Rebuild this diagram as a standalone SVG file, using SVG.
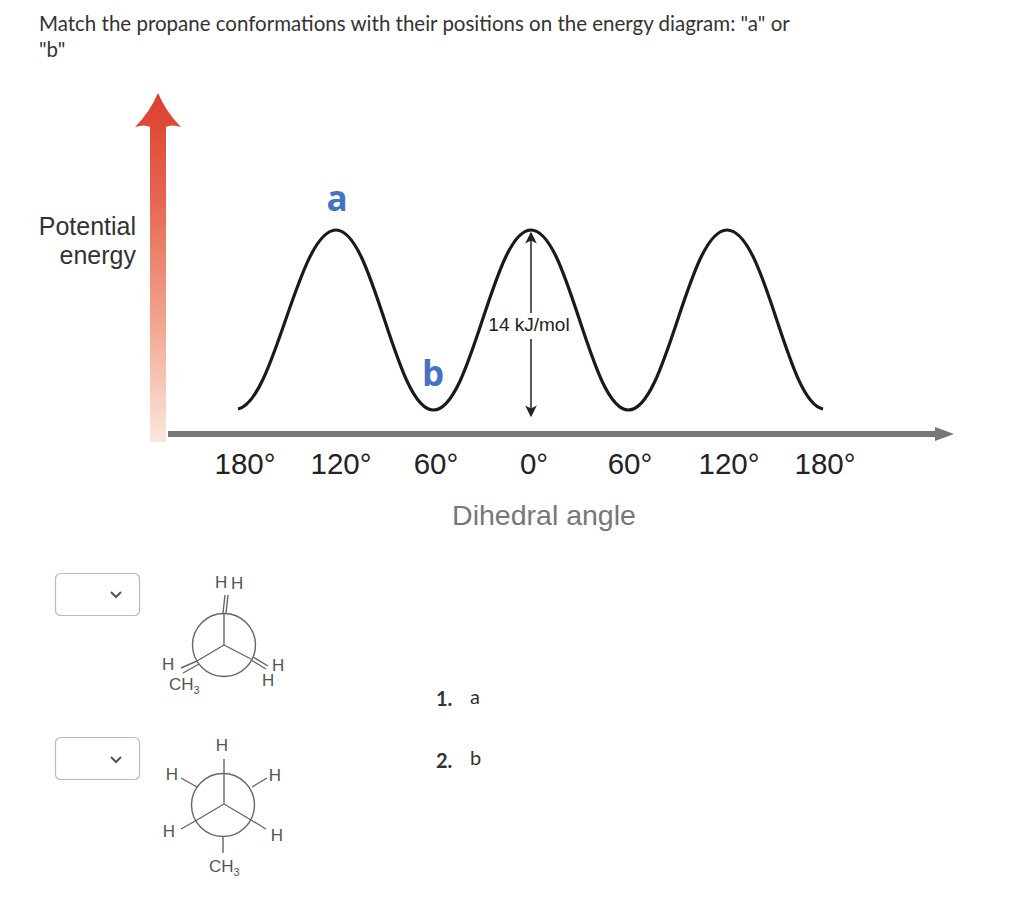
<svg xmlns="http://www.w3.org/2000/svg" width="1024" height="899" viewBox="0 0 1024 899">
<style>
.q{font-family:"Lato","Liberation Sans",sans-serif;font-size:20.5px;fill:#333}
.l{font-family:"Liberation Sans",Arial,sans-serif;font-size:25px;fill:#333}
.t{font-family:"Liberation Sans",Arial,sans-serif;font-size:29.500px;fill:#222}
.d{font-family:"Liberation Sans",Arial,sans-serif;font-size:28.500px;fill:#777}
.k{font-family:"Liberation Sans",Arial,sans-serif;font-size:19px;fill:#222}
.c{font-family:"Open Sans","Liberation Sans",sans-serif;font-weight:700;font-size:35px;fill:#4472c4}
.n{font-family:"Liberation Sans",Arial,sans-serif;font-size:17px;fill:#555}
.s{font-size:11px}
.a{font-family:"Lato","Liberation Sans",sans-serif;font-size:20px;fill:#333}
.m{fill:none;stroke:#666;stroke-width:1.4}
.b{fill:#fff;stroke:#bbb;stroke-width:1.2}
.v{fill:none;stroke:#555;stroke-width:2}
</style>
<defs>
<linearGradient id="g" x1="0" y1="0" x2="0" y2="1">
<stop offset="0" stop-color="#dd3e2e"/><stop offset=".3" stop-color="#e6654f"/><stop offset=".65" stop-color="#f1a48e"/><stop offset="1" stop-color="#fbe7dd"/>
</linearGradient>
<marker id="h" viewBox="0 0 10 12" refX="9" refY="6" markerWidth="13" markerHeight="14" markerUnits="userSpaceOnUse" orient="auto-start-reverse"><path d="M0 1L10 6L0 11L2.5 6Z" fill="#222"/></marker>
</defs>
<g id="question">
<text class="q" x="39" y="31">Match the propane conformations with their positions on the energy diagram: "a" or</text>
<text class="q" x="39" y="57">"b"</text>
</g>
<g id="energy-axis">
<path d="M150 442V127Q145 124 135 127Q150 112 158 93Q166 112 181 127Q171 124 166 127V442Z" fill="url(#g)"/>
<text class="l" x="136" y="235" text-anchor="end">Potential</text>
<text class="l" x="136" y="264" text-anchor="end">energy</text>
</g>
<g id="angle-axis">
<path d="M168 431H935V427L954 434L935 441V437H168Z" fill="#777"/>
<text class="t" x="245" y="474" text-anchor="middle">180°</text>
<text class="t" x="341" y="474" text-anchor="middle">120°</text>
<text class="t" x="436" y="474" text-anchor="middle">60°</text>
<text class="t" x="534" y="474" text-anchor="middle">0°</text>
<text class="t" x="630" y="474" text-anchor="middle">60°</text>
<text class="t" x="729" y="474" text-anchor="middle">120°</text>
<text class="t" x="825" y="474" text-anchor="middle">180°</text>
<text class="d" x="544" y="525" text-anchor="middle">Dihedral angle</text>
</g>
<g id="connectors">
<path id="energy-curve" fill="none" stroke="#1a1a1a" stroke-width="3.200" d="M238 409C275 402 298 230 336 230C374 230 395 410 433.500 410C472 410 493 230 531 230C569 230 590 410 628.500 410C667 410 688 230 727 230C766 230 786 402 823 409"/>
<line x1="531" y1="233" x2="531" y2="313" stroke="#222" stroke-width="1.5" marker-start="url(#h)"/>
<line x1="531" y1="339" x2="531" y2="416" stroke="#222" stroke-width="1.5" marker-end="url(#h)"/>
</g>
<g id="label-14kj"><text class="k" x="529" y="331" text-anchor="middle">14 kJ/mol</text></g>
<g id="label-a"><text class="c" x="337" y="211" text-anchor="middle">a</text></g>
<g id="label-b"><text class="c" x="433" y="386" text-anchor="middle">b</text></g>
<g id="select-1">
<rect class="b" x="55.500" y="573.500" width="84" height="42" rx="5"/>
<path class="v" d="M111 592L116 597L121 592"/>
</g>
<g id="select-2">
<rect class="b" x="55.500" y="737.500" width="84" height="42" rx="5"/>
<path class="v" d="M111 757L116 762L121 757"/>
</g>
<g id="newman-eclipsed">
<circle class="m" cx="224" cy="645" r="31.500"/>
<path class="m" d="M224 645V613M224 645L197 661M224 645L251 659"/>
<path class="m" d="M226 613L228 595M223 613L225 595M197 661L181 668M199 664L183 673M253 657L268 666M251 660L266 669"/>
<text class="n" x="215" y="588">H</text>
<text class="n" x="231" y="589">H</text>
<text class="n" x="162" y="670">H</text>
<text class="n" x="272" y="671">H</text>
<text class="n" x="262" y="686">H</text>
<text class="n" x="169" y="690">CH<tspan class="s" dy="4">3</tspan></text>
</g>
<g id="newman-staggered">
<circle class="m" cx="223" cy="805" r="31.500"/>
<path class="m" d="M224 804V772V759M224 804L197 820L181 829M224 804L251 820L266 829M197 787L181 778M252 787L267 778M223 836V853"/>
<text class="n" x="222" y="751" text-anchor="middle">H</text>
<text class="n" x="172" y="780" text-anchor="middle">H</text>
<text class="n" x="275" y="781" text-anchor="middle">H</text>
<text class="n" x="169" y="837" text-anchor="middle">H</text>
<text class="n" x="277" y="841" text-anchor="middle">H</text>
<text class="n" x="209" y="872">CH<tspan class="s" dy="4">3</tspan></text>
</g>
<g id="answers">
<text class="a" x="436" y="706"><tspan font-weight="700">1.</tspan></text><text class="a" x="470" y="704">a</text>
<text class="a" x="436" y="768"><tspan font-weight="700">2.</tspan></text><text class="a" x="470" y="765">b</text>
</g>
</svg>
